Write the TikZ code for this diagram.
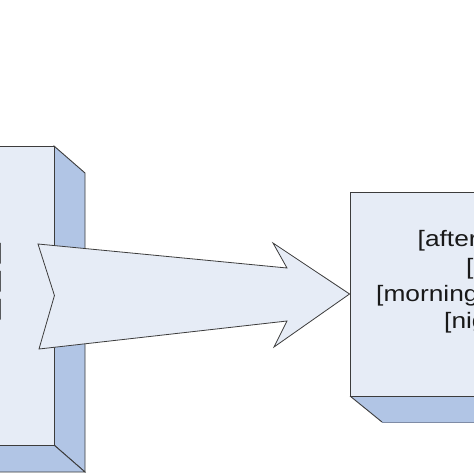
\documentclass[tikz,border=0pt]{standalone}
\usepackage{fontspec}
\newfontfamily\boxfont[FakeStretch=1.18]{Liberation Sans}
\definecolor{facelight}{HTML}{E6ECF6}
\definecolor{faceshade}{HTML}{B1C5E5}
\definecolor{edgegray}{HTML}{3C3C3C}
\definecolor{rimblue}{HTML}{7F8CA6}
\tikzset{
  frontface/.style = {shape=rectangle, draw=edgegray, line width=0.9pt,
                      fill=facelight, inner sep=0pt},
  sideface/.style  = {draw=edgegray, line width=0.9pt, fill=faceshade},
  bigarrow/.style  = {draw=edgegray, line width=0.8pt, fill=facelight},
  boxtext/.style   = {font=\boxfont\fontsize{22.3}{26}\selectfont,
                      inner sep=0pt, text=black!90}
}

\begin{document}
\begin{tikzpicture}[x=1pt, y=-1pt]
  \useasboundingbox (0,0) rectangle (474,474);
  \fill[white] (0,0) rectangle (474,474);

  % left box, seen from its right side
  \draw[sideface] (54,146) -- (85,173) -- (85,472) -- (54,445) -- cycle;
  \draw[sideface] (-10,445) -- (54,445) -- (85,472) -- (-10,472) -- cycle;
  \node[frontface, minimum width=64pt, minimum height=299pt] (leftbox) at (22,295.5) {};
  \foreach \y/\n in {259.3/a, 287.3/b, 315.3/c}
    \node[boxtext, anchor=base east] (left\n) at (3,\y) {]};

  % right box
  \fill[faceshade] (350,396) -- (382,422) -- (490,422) -- (490,396) -- cycle;
  \draw[edgegray, line width=0.9pt] (350,396) -- (382,422);
  \draw[rimblue, line width=1pt] (382,422) -- (490,422);
  \node[frontface, minimum width=140pt, minimum height=204pt] (rightbox) at (420,294) {};
  \node[boxtext, anchor=base west] (after) at (417.5,246) {[afternoon]};
  \node[boxtext, anchor=base west] (day) at (466,274) {[Day]};
  \node[boxtext, anchor=base west] (morning) at (376,301) {[morning]};
  \node[boxtext, anchor=base west] (night) at (444,328) {[night]};

  % block arrow between the boxes
  \draw[bigarrow] (38,244) -- (287,268) -- (273,243) -- (rightbox.west)
    -- (274,347) -- (287,321) -- (39,349) -- (leftbox.east) -- cycle;
\end{tikzpicture}
\end{document}
